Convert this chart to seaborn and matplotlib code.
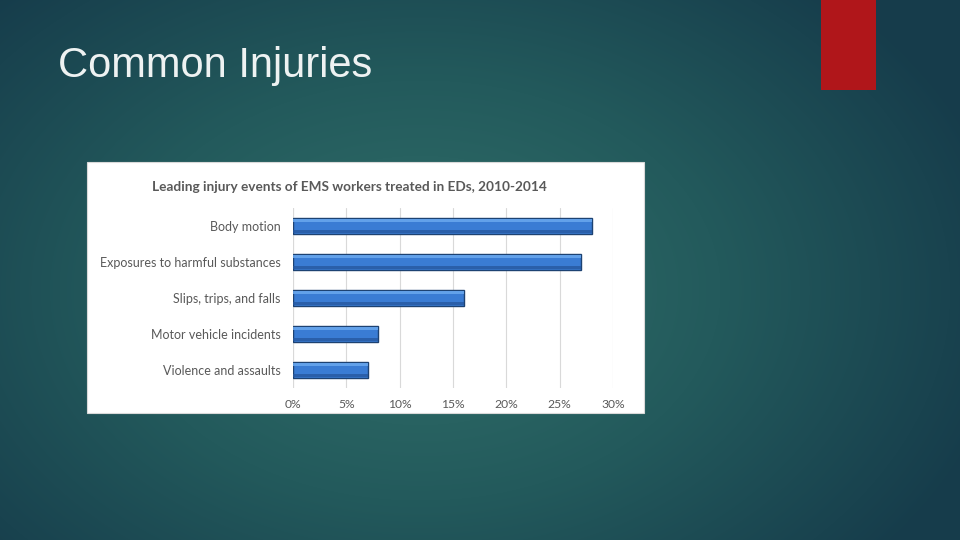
import numpy as np
import pandas as pd
import matplotlib
matplotlib.use("Agg")
import matplotlib.pyplot as plt
from matplotlib.patches import Rectangle
from matplotlib.colors import LinearSegmentedColormap
import seaborn as sns

# Data
categories = [
    'Body motion',
    'Exposures to harmful substances',
    'Slips, trips, and falls',
    'Motor vehicle incidents',
    'Violence and assaults'
]
percent = [28, 27, 16, 8, 7]
xticks = [0, 5, 10, 15, 20, 25, 30]
xtick_labels = ['0%', '5%', '10%', '15%', '20%', '25%', '30%']

df = pd.DataFrame({'event': categories, 'pct': percent})

sns.set_theme(style='white')
plt.rcParams['font.family'] = ['Lato', 'DejaVu Sans']

fig = plt.figure(figsize=(9.6, 5.4), dpi=100)

# Slide background: radial teal gradient
bg = fig.add_axes([0, 0, 1, 1], zorder=-2)
yy, xx = np.mgrid[0:540, 0:960]
r = np.sqrt(((xx - 420) / 600.0) ** 2 + ((yy - 290) / 420.0) ** 2)
r = np.clip(r, 0, 1)
cmap = LinearSegmentedColormap.from_list('slide', ['#31706a', '#235a5c', '#163c4b'])
bg.imshow(r, cmap=cmap, aspect='auto', extent=[0, 960, 540, 0])
bg.set_xlim(0, 960)
bg.set_ylim(540, 0)
bg.axis('off')

# Red accent block and slide title
bg.add_patch(Rectangle((821, 0), 55, 90, facecolor='#b0161a', edgecolor='none'))
bg.text(58, 66, 'Common Injuries', color='#eef2f2',
        fontsize=30, family=['Liberation Sans', 'DejaVu Sans'],
        va='center', ha='left')

# White chart panel
bg.add_patch(Rectangle((87, 162), 557, 251, facecolor='white',
                       edgecolor='#d9d9d9', linewidth=0.8))
bg.text(349, 187,
        'Leading injury events of EMS workers treated in EDs, 2010-2014',
        color='#595959', fontsize=9.8, fontweight='bold', ha='center',
        va='center')

ax = fig.add_axes([293 / 960, 1 - 388 / 540, 320 / 960, 180 / 540], zorder=2)
ax.set_facecolor('none')
sns.barplot(data=df, x='pct', y='event', color='#3a7cd4', saturation=1,
            width=0.47, edgecolor='#1d4272', linewidth=1.0, ax=ax, zorder=3)

# Glossy look: light band on top, darker band at the bottom
for p in list(ax.patches):
    x0, y0 = p.get_x(), p.get_y()
    w, h = p.get_width(), p.get_height()
    ax.add_patch(Rectangle((x0, y0 + h * 0.06), w, h * 0.2,
                           facecolor='#6aa8ee', edgecolor='none', alpha=0.85,
                           zorder=4))
    ax.add_patch(Rectangle((x0, y0 + h * 0.72), w, h * 0.22,
                           facecolor='#2658a0', edgecolor='none', alpha=0.8,
                           zorder=4))

ax.set_xlim(0, 30)
ax.set_ylim(4.5, -0.5)
ax.set_xticks(xticks)
ax.set_xticklabels(xtick_labels)
ax.xaxis.grid(True, color='#d9d9d9', linewidth=0.8)
ax.set_axisbelow(True)
for s in ax.spines.values():
    s.set_visible(False)
ax.axvline(0, color='#d9d9d9', linewidth=0.8, zorder=1)
ax.tick_params(axis='both', length=0, colors='#595959')
ax.tick_params(axis='y', pad=9, labelsize=9)
ax.tick_params(axis='x', pad=8, labelsize=8.7)
ax.set_xlabel('')
ax.set_ylabel('')

fig.savefig('out.png', dpi=100)
